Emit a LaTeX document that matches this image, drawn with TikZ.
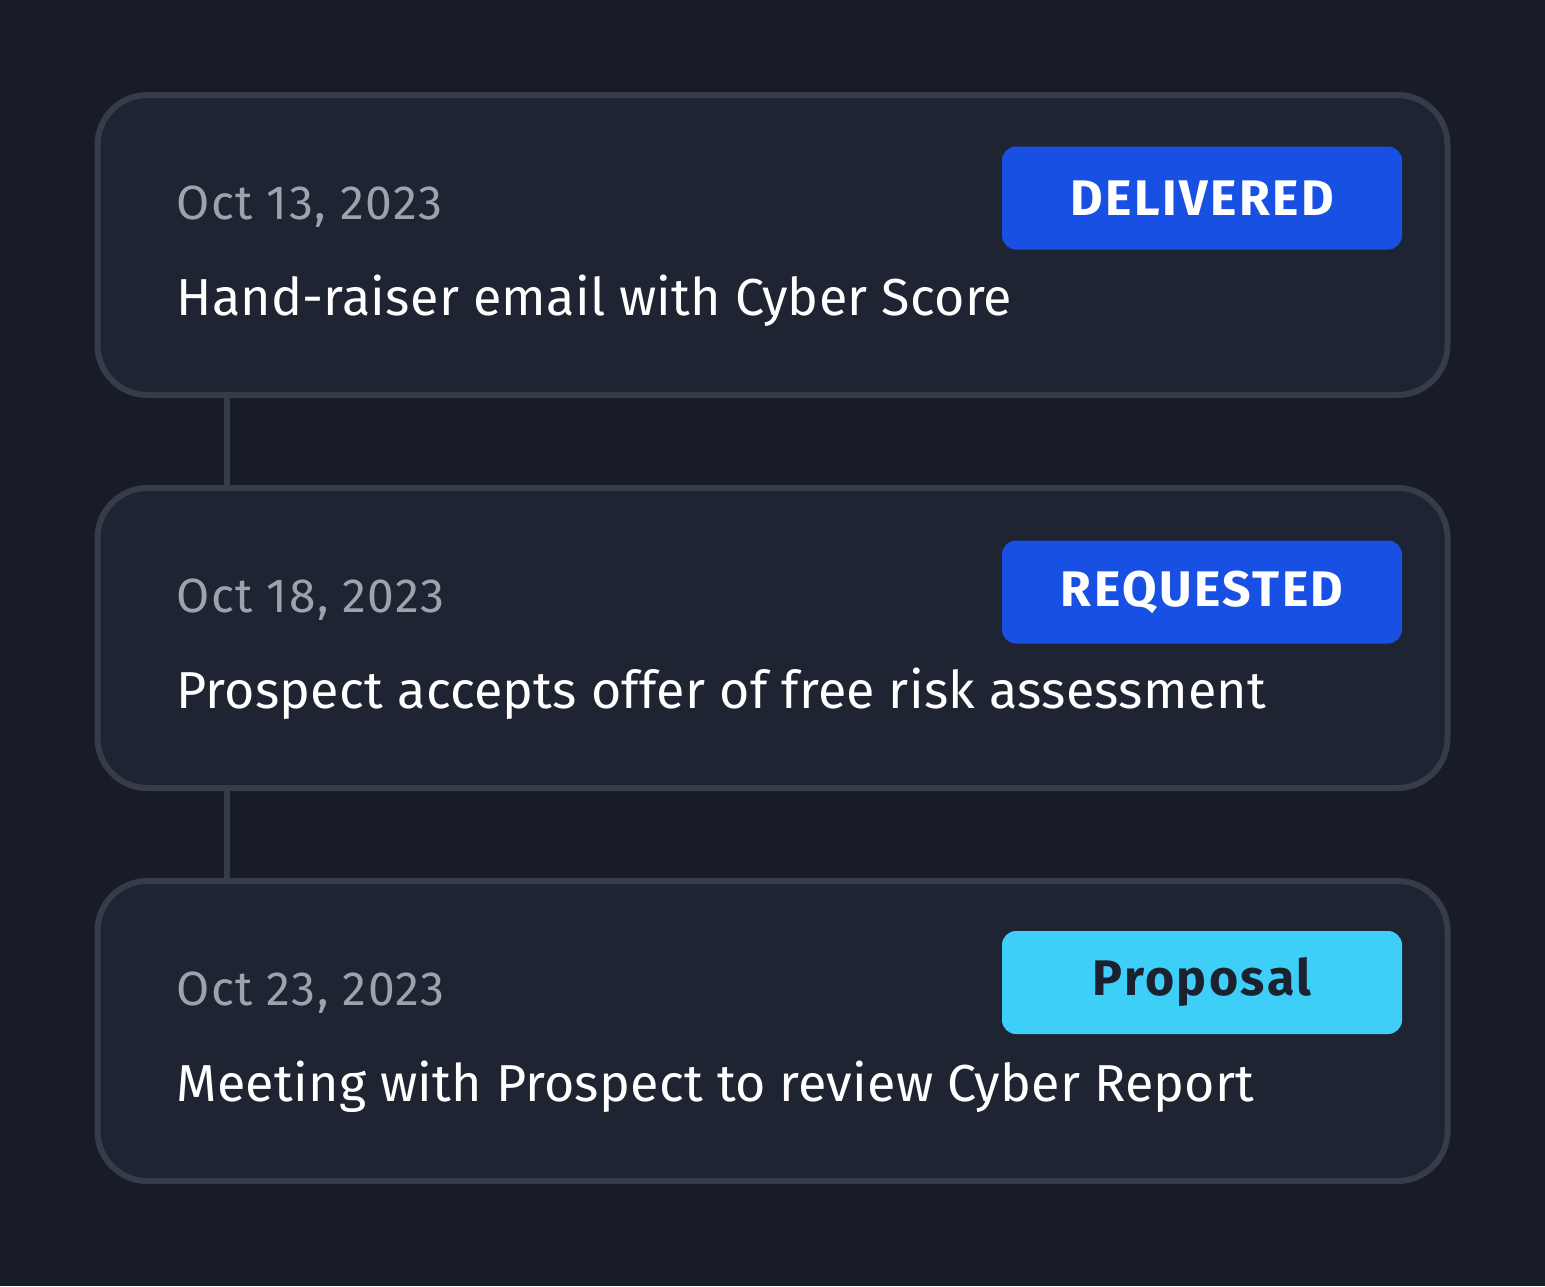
\documentclass[tikz,border=0pt]{standalone}
\usepackage{fontspec}
\setmainfont{Fira Sans}
\setsansfont{Fira Sans}
\usetikzlibrary{positioning}
\definecolor{pageBg}{HTML}{181C27}
\definecolor{cardBg}{HTML}{1F2432}
\definecolor{cardLine}{HTML}{363C4A}
\definecolor{dateGray}{HTML}{9CA3AF}
\definecolor{badgeBlue}{HTML}{1750E3}
\definecolor{badgeCyan}{HTML}{3ECFF8}
\definecolor{darkText}{HTML}{1C2130}

\begin{document}
\begin{tikzpicture}[x = 0.5pt, y = -0.5pt, font=\sffamily]
	\tikzstyle{cardStyle}=[shape = rectangle, minimum width = 675pt, minimum height = 150pt, rounded corners = 25pt, draw = cardLine, fill = cardBg, line width = 3pt, outer sep = 0pt]
	\tikzstyle{badgeStyle}=[shape = rectangle, minimum width = 200pt, minimum height = 51.5pt, rounded corners = 7pt, inner sep = 0pt, font = \fontsize{25}{28}\selectfont\bfseries\addfontfeatures{LetterSpace = 5}]
	\tikzstyle{dateStyle}=[anchor = base west, inner sep = 0pt, text = dateGray, font = \fontsize{24}{28}\selectfont\addfontfeatures{LetterSpace = 3}]
	\tikzstyle{titleStyle}=[anchor = base west, inner sep = 0pt, text = white, font = \fontsize{26}{30}\selectfont\addfontfeatures{LetterSpace = 0.5}]
	\tikzstyle{linkStyle}=[draw = cardLine, line width = 3pt]
	\fill[pageBg] (0,0) rectangle (1545,1286);
	\useasboundingbox (0,0) rectangle (1545,1286);
	\node[cardStyle] (c1) at (772.5, 245) {};
	\node[cardStyle] (c2) at (772.5, 638) {};
	\node[cardStyle] (c3) at (772.5, 1031) {};
	\draw[linkStyle] ([xshift = 64.5pt]c1.south west) -- ([xshift = 64.5pt]c2.north west);
	\draw[linkStyle] ([xshift = 64.5pt]c2.south west) -- ([xshift = 64.5pt]c3.north west);
	\node[badgeStyle, fill = badgeBlue, text = white] (b1) at (1202, 198) {DELIVERED};
	\node[badgeStyle, fill = badgeBlue, text = white] (b2) at (1202, 592) {REQUESTED};
	\node[badgeStyle, fill = badgeCyan, text = darkText] (b3) at (1202, 982.5) {Proposal};
	\node[dateStyle] (d1) at (176, 219) {Oct 13, 2023};
	\node[dateStyle] (d2) at (176, 612) {Oct 18, 2023};
	\node[dateStyle] (d3) at (176, 1005) {Oct 23, 2023};
	\node[titleStyle] (t1) at (176, 315) {Hand-raiser email with Cyber Score};
	\node[titleStyle] (t2) at (176, 708) {Prospect accepts offer of free risk assessment};
	\node[titleStyle] (t3) at (176, 1101) {Meeting with Prospect to review Cyber Report};
\end{tikzpicture}
\end{document}
